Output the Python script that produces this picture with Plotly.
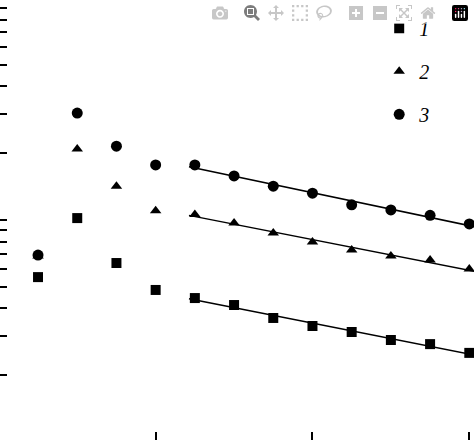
import numpy as np
import plotly.graph_objects as go

x = list(range(1, 13))
s1 = [0.553, 1.02, 0.640, 0.484, 0.445, 0.414, 0.362, 0.333, 0.313, 0.288, 0.276, 0.252]
s2 = [0.689, 2.09, 1.42, 1.10, 1.06, 0.97, 0.874, 0.796, 0.733, 0.689, 0.660, 0.601]
s3 = [0.695, 3.03, 2.15, 1.77, 1.77, 1.58, 1.42, 1.32, 1.17, 1.11, 1.05, 0.96]
names = ["1", "2", "3"]
symbols = ["square", "triangle-up", "circle"]

fig = go.Figure()
for i, (s, sym, nm) in enumerate(zip([s1, s2, s3], symbols, names)):
    xs = np.array(x[4:]); ys = np.log10(np.array(s[4:]))
    k, b = np.polyfit(xs, ys, 1)
    lx = np.array([4.85, 12.2])
    fig.add_trace(go.Scatter(x=lx, y=10 ** (k * lx + b), mode="lines",
                             line=dict(color="black", width=1.5), showlegend=False))
for i, (s, sym, nm) in enumerate(zip([s1, s2, s3], symbols, names)):
    fig.add_trace(go.Scatter(x=x, y=s, mode="markers", name=nm, legendgroup=nm,
                             marker=dict(symbol=sym, size=10 if sym != "circle" else 11, color="black")))

minor = [v * d for d in (0.1, 1) for v in range(2, 10)] + [1]
fig.update_layout(
    width=474, height=440, margin=dict(l=0, r=0, t=0, b=0),
    plot_bgcolor="white", paper_bgcolor="white",
    xaxis=dict(range=[0.03, 12.12], showgrid=False, zeroline=False, showline=False,
               tickvals=[4, 8, 12], ticks="inside", ticklen=8, tickwidth=1.5,
               tickcolor="black", showticklabels=False),
    yaxis=dict(type="log", range=[-0.991, 0.991], showgrid=False, zeroline=False,
               showline=False, tickvals=minor, ticks="inside", ticklen=7, tickwidth=1.5,
               tickcolor="black", showticklabels=False),
    legend=dict(x=0.80, y=0.98, xanchor="left", yanchor="top", tracegroupgap=14,
                font=dict(family="Liberation Serif", size=20, color="black", style="italic"),
                bgcolor="rgba(0,0,0,0)", itemwidth=30),
    showlegend=True,
)
fig.write_html("out.html", post_script="document.body.style.margin='0';document.body.style.overflow='hidden';")
